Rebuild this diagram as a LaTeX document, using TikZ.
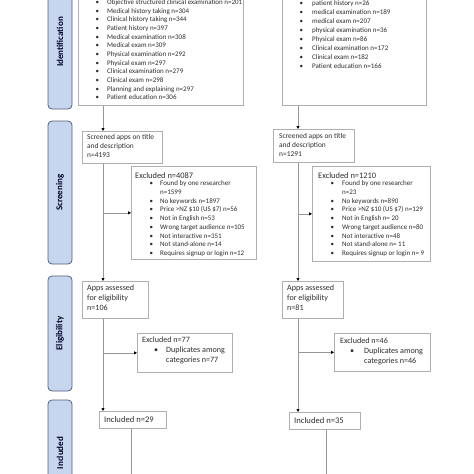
\documentclass[tikz,border=0pt]{standalone}
\usepackage{fontspec}
\setmainfont{Carlito}
\usetikzlibrary{arrows.meta,calc}
\definecolor{sidefill}{RGB}{198,214,238}
\definecolor{sidedraw}{RGB}{80,96,125}
\definecolor{boxdraw}{RGB}{175,175,175}
\definecolor{linec}{RGB}{150,150,150}
\definecolor{txtc}{RGB}{45,45,45}
\newcommand\li[2]{\makebox[#1][l]{\textbullet}#2}
\begin{document}
\begin{tikzpicture}[x=1pt,y=-1pt,
  every node/.append style={text=txtc},
  box/.style={draw=boxdraw, line width=0.7pt, fill=white, inner sep=0pt, anchor=north west},
  side/.style={draw=sidedraw, fill=sidefill, rounded corners=4pt, line width=0.8pt, inner sep=0pt,
    rotate=90, minimum height=24pt, font=\fontsize{9}{10}\selectfont\bfseries, text=black!85!blue},
  txt/.style={inner sep=0pt, anchor=north west, align=left},
  one/.style={inner sep=0pt, anchor=base west},
  link/.style={draw=linec, line width=0.7pt},
  arr/.style={link, -{Triangle[length=3pt,width=3pt,color=black]}},
  lst/.style={font=\fontsize{7}{#1}\selectfont},
]
\useasboundingbox (0,0) rectangle (474,474);
\clip (0,0) rectangle (474,474);

% side labels
\node[side, minimum width=134pt] (sId) at (60,42) {Identification};
\node[side, minimum width=143pt] (sSc) at (60,192.5) {Screening};
\node[side, minimum width=115pt] (sEl) at (60,333.5) {Eligibility};
\node[side, minimum width=106pt] (sIn) at (60,453) {Included};

% boxes
\node[box, minimum width=165pt, minimum height=140pt] (idL) at (78,-35) {};
\node[box, minimum width=144pt, minimum height=140pt] (idR) at (282,-35) {};
\node[box, minimum width=80pt, minimum height=32pt] (scrL) at (82,131) {};
\node[box, minimum width=81pt, minimum height=33pt] (scrR) at (273,129) {};
\node[box, minimum width=125pt, minimum height=93pt] (exL) at (131,166) {};
\node[box, minimum width=118pt, minimum height=95pt] (exR) at (312,166) {};
\node[box, minimum width=66pt, minimum height=37pt] (elL) at (82,281) {};
\node[box, minimum width=61pt, minimum height=37pt] (elR) at (282,281) {};
\node[box, minimum width=95pt, minimum height=39pt] (exxL) at (137,333) {};
\node[box, minimum width=96pt, minimum height=38pt] (exxR) at (334,333) {};
\node[box, minimum width=67pt, minimum height=17pt] (inL) at (99,411) {};
\node[box, minimum width=71pt, minimum height=17pt] (inR) at (289,412) {};

% texts
\node[txt, lst=8.64] (tIdL) at (95.3,-1.55) {\strut\li{11.7pt}{Objective structured clinical examination n=201}\\
\li{11.7pt}{Medical history taking n=304}\\
\li{11.7pt}{Clinical history taking n=344}\\
\li{11.7pt}{Patient history n=397}\\
\li{11.7pt}{Medical examination n=308}\\
\li{11.7pt}{Medical exam n=309}\\
\li{11.7pt}{Physical examination n=292}\\
\li{11.7pt}{Physical exam n=297}\\
\li{11.7pt}{Clinical examination n=279}\\
\li{11.7pt}{Clinical exam n=298}\\
\li{11.7pt}{Planning and explaining n=297}\\
\li{11.7pt}{Patient education n=306}};

\node[txt, lst=9] (tIdR) at (299.3,-0.8) {\strut\li{12.7pt}{patient history n=26}\\
\li{12.7pt}{medical examination n=189}\\
\li{12.7pt}{medical exam n=207}\\
\li{12.7pt}{physical examination n=36}\\
\li{12.7pt}{Physical exam n=86}\\
\li{12.7pt}{Clinical examination n=172}\\
\li{12.7pt}{Clinical exam n=182}\\
\li{12.7pt}{Patient education n=166}};

\node[txt, font=\fontsize{7.4}{9.3}\selectfont] (tScL) at (87,132.6) {\strut Screened apps on title\\and description\\n=4193};
\node[txt, font=\fontsize{7.4}{9.3}\selectfont] (tScR) at (279,131.6) {\strut Screened apps on title\\and description\\n=1291};

\node[one, font=\fontsize{8.4}{10}\selectfont] (hExL) at (135,178.7) {Excluded n=4087};
\node[one, font=\fontsize{8.4}{10}\selectfont] (hExR) at (318,178.7) {Excluded n=1210};

\node[txt, lst=8.75] (tExL) at (149.3,179.4) {\strut\li{10.7pt}{Found by one researcher}\\
\hspace*{10.7pt}n=1599\\
\li{10.7pt}{No keywords n=1897}\\
\li{10.7pt}{Price >NZ \$10 (US \$7) n=56}\\
\li{10.7pt}{Not in English n=53}\\
\li{10.7pt}{Wrong target audience n=105}\\
\li{10.7pt}{Not interactive n=351}\\
\li{10.7pt}{Not stand-alone n=14}\\
\li{10.7pt}{Requires signup or login n=12}};

\node[txt, lst=8.75] (tExR) at (330.3,179.4) {\strut\li{11.7pt}{Found by one researcher}\\
\hspace*{11.7pt}n=23\\
\li{11.7pt}{No keywords n=890}\\
\li{11.7pt}{Price >NZ \$10 (US \$7) n=129}\\
\li{11.7pt}{Not in English n= 20}\\
\li{11.7pt}{Wrong target audience n=80}\\
\li{11.7pt}{Not interactive n=48}\\
\li{11.7pt}{Not stand-alone n= 11}\\
\li{11.7pt}{Requires signup or login n= 9}};

\node[txt, font=\fontsize{8.1}{10}\selectfont] (tElL) at (87,283.7) {\strut Apps assessed\\for eligibility\\n=106};
\node[txt, font=\fontsize{8.1}{10}\selectfont] (tElR) at (287,283.7) {\strut Apps assessed\\for eligibility\\n=81};

\node[one, font=\fontsize{8.1}{10}\selectfont] (hExxL) at (142,342.8) {Excluded n=77};
\node[one, font=\fontsize{8.1}{10}\selectfont] (hExxR) at (340,343.3) {Excluded n=46};
\node[txt, font=\fontsize{8.1}{10}\selectfont] (tExxL) at (154,345.7) {\strut\li{12pt}{Duplicates among}\\\hspace*{12pt}categories n=77};
\node[txt, font=\fontsize{8.1}{10}\selectfont] (tExxR) at (350,346.5) {\strut\li{14pt}{Duplicates among}\\\hspace*{14pt}categories n=46};

\node[one, font=\fontsize{8.6}{10}\selectfont] (tInL) at (104,422) {Included n=29};
\node[one, font=\fontsize{8.6}{10}\selectfont] (tInR) at (294,423.5) {Included n=35};

% connectors
\coordinate (xL) at (103,0);
\coordinate (xR) at (298,0);
\coordinate (endL) at (131,480);
\coordinate (endR) at (326,480);
\draw[arr] (xL |- idL.south) -- (xL |- scrL.north);
\draw[arr] (xL |- scrL.south) -- (xL |- elL.north);
\draw[arr] (xL |- exL.west) -- (exL.west);
\draw[arr] (xL |- elL.south) -- (xL |- inL.north);
\draw[arr] (xL |- exxL.west) -- (exxL.west);
\draw[link] (endL |- inL.south) -- (endL);
\draw[arr] (xR |- idR.south) -- (xR |- scrR.north);
\draw[arr] (xR |- scrR.south) -- (xR |- elR.north);
\draw[arr] (xR |- exR.west) -- (exR.west);
\draw[arr] (xR |- elR.south) -- (xR |- inR.north);
\draw[arr] (xR |- exxR.west) -- (exxR.west);
\draw[link] (endR |- inR.south) -- (endR);
\end{tikzpicture}
\end{document}
